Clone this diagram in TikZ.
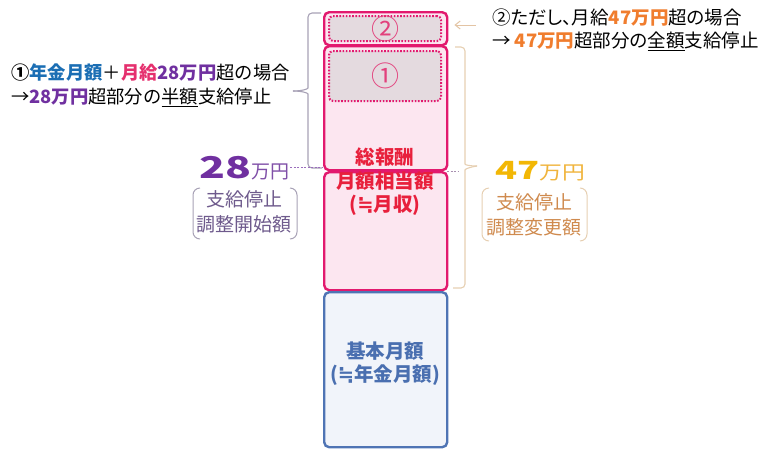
\documentclass[tikz,border=0pt]{standalone}
\usepackage{fontspec}
\setmainfont{Noto Sans CJK JP}
\newfontfamily\jpp[RawFeature=+palt]{Noto Sans CJK JP}
\newfontfamily\dejavu{DejaVu Sans}
\newcommand{\apeq}{{\dejavu\bfseries ≒}}
\usepackage{graphicx}
\usetikzlibrary{arrows.meta}
\definecolor{pk}{HTML}{E2196E}
\definecolor{pkfill}{HTML}{FCE6F0}
\definecolor{graybox}{HTML}{E4DADF}
\definecolor{num}{HTML}{E2407C}
\definecolor{redt}{HTML}{E8203C}
\definecolor{bl}{HTML}{4F74B4}
\definecolor{blfill}{HTML}{F1F4FA}
\definecolor{blt}{HTML}{4A6FB0}
\definecolor{pu}{HTML}{7030A0}
\definecolor{pulight}{HTML}{8050A8}
\definecolor{pugray}{HTML}{6E5A8C}
\definecolor{brL}{HTML}{A8A2B6}
\definecolor{brR}{HTML}{E6CFB2}
\definecolor{gold}{HTML}{F2B705}
\definecolor{goldk}{HTML}{F0B43C}
\definecolor{tanc}{HTML}{CF8A4E}
\definecolor{org}{HTML}{F07D2E}
\definecolor{tblue}{HTML}{1B6EB4}
\definecolor{mag}{HTML}{E5306E}
\definecolor{arrc}{HTML}{E3C4A4}
\definecolor{dashR}{HTML}{A890B0}
\begin{document}
\begin{tikzpicture}[x=1pt,y=-1pt,
  pinkbox/.style={draw=pk,fill=pkfill,line width=2.4pt,rounded corners=5pt,anchor=north west,inner sep=0pt},
  bluebox/.style={draw=bl,fill=blfill,line width=2.4pt,rounded corners=5pt,anchor=north west,inner sep=0pt},
  dotbox/.style={draw=pk,fill=graybox,line width=2pt,dash pattern=on 1.6pt off 1.6pt,rounded corners=4pt,anchor=north west,inner sep=0pt},
  numtxt/.style={text=num,font=\fontsize{28}{28}\selectfont},
  boxtxt/.style={font=\bfseries\fontsize{19.5}{23}\selectfont,align=center},
  braceL/.style={draw=brL,line width=1.1pt,rounded corners=4pt},
  braceR/.style={draw=brR,line width=1.1pt,rounded corners=4pt},
  parenL/.style={draw=brL,line width=1pt,rounded corners=7pt},
  parenR/.style={draw=brR,line width=1pt,rounded corners=7pt},
  lbl/.style={inner sep=0pt,align=center}
]
\useasboundingbox (0,0) rectangle (768,448);
% boxes
\node[pinkbox,minimum width=123pt,minimum height=33pt] (b2) at (323,11) {};
\node[pinkbox,minimum width=123pt,minimum height=124pt] (b1) at (323,45) {};
\node[pinkbox,minimum width=123pt,minimum height=118pt] (bm) at (323,171) {};
\node[bluebox,minimum width=123pt,minimum height=155pt] (bb) at (323,291) {};
\node[dotbox,minimum width=112pt,minimum height=25pt] (d2) at (328,15) {};
\node[dotbox,minimum width=112pt,minimum height=50pt] (d1) at (328,50) {};
\node[numtxt] (n2) at (d2.center) {②};
\node[numtxt] (n1) at (d1.center) {①};
% box texts
\node[boxtxt,text=redt] (sou) at (385,157) {総報酬};
\node[boxtxt,text=redt] (getsu) at (385,194) {月額相当額\\(\apeq 月収)};
\node[boxtxt,text=blt] (kihon) at (385,364) {基本月額\\(\apeq 年金月額)};
% left brace
\coordinate (lb1) at (321,13);
\coordinate (lbt) at (293,91);
\coordinate (lb2) at (322,168);
\draw[braceL] (lb1) -- (308,13) -- (308,84) .. controls (308,89) and (302,91) .. (lbt);
\draw[braceL] (lbt) .. controls (302,91) and (308,93) .. (308,98) -- (308,168) -- (lb2);
% right brace
\coordinate (rb1) at (455,47);
\coordinate (rbt) at (477,166);
\coordinate (rb2) at (453,288);
\draw[braceR] (rb1) -- (465,47) -- (465,160) .. controls (465,165) and (470,166) .. (rbt);
\draw[braceR] (rbt) .. controls (470,167) and (465,169) .. (465,174) -- (465,288) -- (rb2);
% left texts
\node[anchor=west,inner sep=0pt,align=left,font=\fontsize{18.3}{24}\selectfont] (ltxt) at (11,85)
 {\textbf{①}\textcolor{tblue}{\textbf{年金月額}}＋\textcolor{mag}{\textbf{月給}}\textcolor{pu}{\textbf{28万円}}超の場合\\
  →\textcolor{pu}{\textbf{28万円}}超部分の\underline{半額}支給停止};
\node[anchor=west,inner sep=0pt,align=left,font=\jpp\fontsize{18.5}{23}\selectfont] (rtxt) at (492,30)
 {②ただし、月給\textcolor{org}{\textbf{47万円}}超の場合\\
  → \textcolor{org}{\textbf{47万円}}超部分の\underline{全額}支給停止};
% 28 man-en
\node[anchor=base west,inner sep=1pt] (t28) at (198,178)
 {\textcolor{pu}{\bfseries\fontsize{30}{30}\selectfont\scalebox{1.42}[1]{28}}\textcolor{pulight}{\fontsize{19}{19}\selectfont 万円}};
\node[lbl,text=pugray,font=\fontsize{19}{25}\selectfont] (s28) at (244,212) {支給停止\\調整開始額};
\draw[parenL] (200,188) -- (193,188) -- (193,239) -- (200,239);
\draw[parenL] (290,188) -- (297,188) -- (297,239) -- (290,239);
% 47 man-en
\node[anchor=base west,inner sep=1pt] (t47) at (494,179)
 {\textcolor{gold}{\bfseries\fontsize{25}{25}\selectfont\scalebox{1.45}[1]{47}}\textcolor{goldk}{\fontsize{19}{19}\selectfont\scalebox{1.2}[1]{万円}}};
\node[lbl,text=tanc,font=\fontsize{19}{25}\selectfont] (s47) at (534,215) {支給停止\\調整変更額};
\draw[parenR] (489,188) -- (482,188) -- (482,241) -- (489,241);
\draw[parenR] (580,188) -- (587,188) -- (587,241) -- (580,241);
% dashed connectors
\draw[pu!70,dashed,line width=0.9pt,dash pattern=on 2pt off 1.5pt] (t28.east) -- (bm.west |- t28.east);
\coordinate (rd0) at (447,171);
\coordinate (rd) at (459,171);
\draw[dashR,line width=0.9pt,dash pattern=on 2pt off 1.5pt] (rd0) -- (rd);
% arrow
\coordinate (arS) at (476,25);
\draw[arrc,line width=1pt,-{Straight Barb[length=5pt,width=8pt]},shorten >=6pt] (arS) -- (arS -| b2.east);
\end{tikzpicture}
\end{document}
